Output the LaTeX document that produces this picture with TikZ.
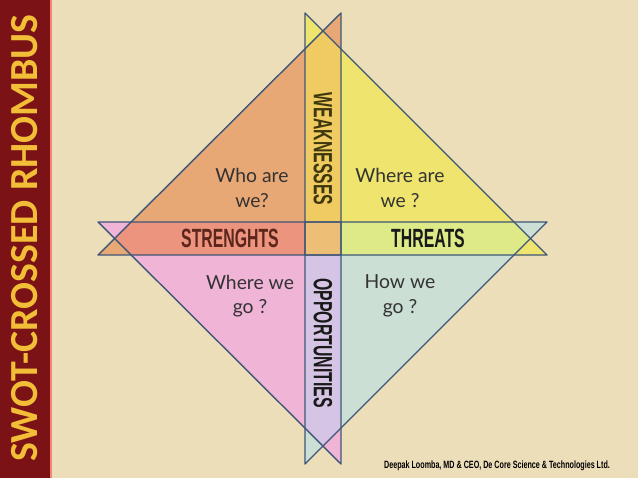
\documentclass[tikz,border=0pt]{standalone}
\usepackage{fontspec}
\setmainfont{Lato}
\newfontfamily\bandfont[FakeStretch=0.6]{Liberation Sans}
\newfontfamily\creditfont[FakeStretch=0.68]{Liberation Sans}
\newfontfamily\titlefont{Carlito}

\definecolor{papercolor}{RGB}{237,222,186}
\definecolor{barcolor}{RGB}{122,18,22}
\definecolor{goldcolor}{RGB}{242,190,55}
\definecolor{edgecolor}{RGB}{62,86,120}
\definecolor{swcolor}{RGB}{232,168,118}
\definecolor{wtcolor}{RGB}{238,228,110}
\definecolor{socolor}{RGB}{240,180,214}
\definecolor{otcolor}{RGB}{204,223,212}
\definecolor{wstripcolor}{RGB}{240,203,98}
\definecolor{sstripcolor}{RGB}{236,148,125}
\definecolor{tstripcolor}{RGB}{222,234,135}
\definecolor{ostripcolor}{RGB}{214,196,228}
\definecolor{midcolor}{RGB}{236,190,118}
\definecolor{browntext}{RGB}{92,38,28}
\definecolor{olivetext}{RGB}{62,56,12}

\begin{document}
\begin{tikzpicture}[x=0.03cm,y=-0.03cm,
  edge/.style={draw=edgecolor, line width=1.2pt, line join=round},
  hand/.style={align=center, text=black!80, font=\fontsize{16.5}{21}\selectfont},
  band/.style={font=\bandfont\bfseries\fontsize{22.5}{22.5}\selectfont}]
  \useasboundingbox (0,0) rectangle (638,478);

  % Draw the paper and the title bar
  \fill[papercolor] (0,0) rectangle (638,478);
  \fill[barcolor] (0,0) rectangle (50,478);
  \draw[red!40!papercolor, line width=1.5pt] (51,0) -- (51,478);
  \node[rotate=90, text=goldcolor, font=\titlefont\bfseries\fontsize{34}{34}\selectfont] (title) at (25,238) {SWOT-CROSSED RHOMBUS};

  % Four quarter triangles
  \fill[swcolor] (341,13) -- (341,255) -- (98,255) -- cycle;
  \fill[wtcolor] (305,13) -- (305,255) -- (547,255) -- cycle;
  \fill[socolor] (98,222) -- (341,222) -- (341,464) -- cycle;
  \fill[otcolor] (547,222) -- (305,222) -- (305,464) -- cycle;

  % Where they overlap
  \begin{scope}
    \clip (341,13) -- (341,255) -- (98,255) -- cycle;
    \fill[wstripcolor] (305,13) -- (305,255) -- (547,255) -- cycle;
    \fill[sstripcolor] (98,222) -- (341,222) -- (341,464) -- cycle;
  \end{scope}
  \begin{scope}
    \clip (547,222) -- (305,222) -- (305,464) -- cycle;
    \fill[tstripcolor] (305,13) -- (305,255) -- (547,255) -- cycle;
    \fill[ostripcolor] (98,222) -- (341,222) -- (341,464) -- cycle;
  \end{scope}
  \fill[midcolor] (305,222) rectangle (341,255);

  % Outlines
  \draw[edge] (341,13) -- (341,255) -- (98,255) -- cycle;
  \draw[edge] (305,13) -- (305,255) -- (547,255) -- cycle;
  \draw[edge] (98,222) -- (341,222) -- (341,464) -- cycle;
  \draw[edge] (547,222) -- (305,222) -- (305,464) -- cycle;

  % Strip labels
  \node[band, text=browntext] (strengths) at (230,238) {STRENGHTS};
  \node[band, text=black!90] (threats) at (428,238) {THREATS};
  \node[band, rotate=-90, text=olivetext] (weaknesses) at (323,149) {WEAKNESSES};
  \node[band, rotate=-90, text=black!90] (opportunities) at (323,343) {OPPORTUNITIES};

  % Questions
  \node[hand] (who) at (252,188) {Who are\\we?};
  \node[hand] (where) at (400,188) {Where are\\we ?};
  \node[hand] (wherego) at (250,296) {Where we\\go ?};
  \node[hand] (howgo) at (400,296) {How we\\go ?};

  % Credit line
  \node[font=\creditfont\bfseries\fontsize{9}{9}\selectfont] (credit) at (497,466) {Deepak Loomba, MD \& CEO, De Core Science \& Technologies Ltd.};
\end{tikzpicture}
\end{document}
